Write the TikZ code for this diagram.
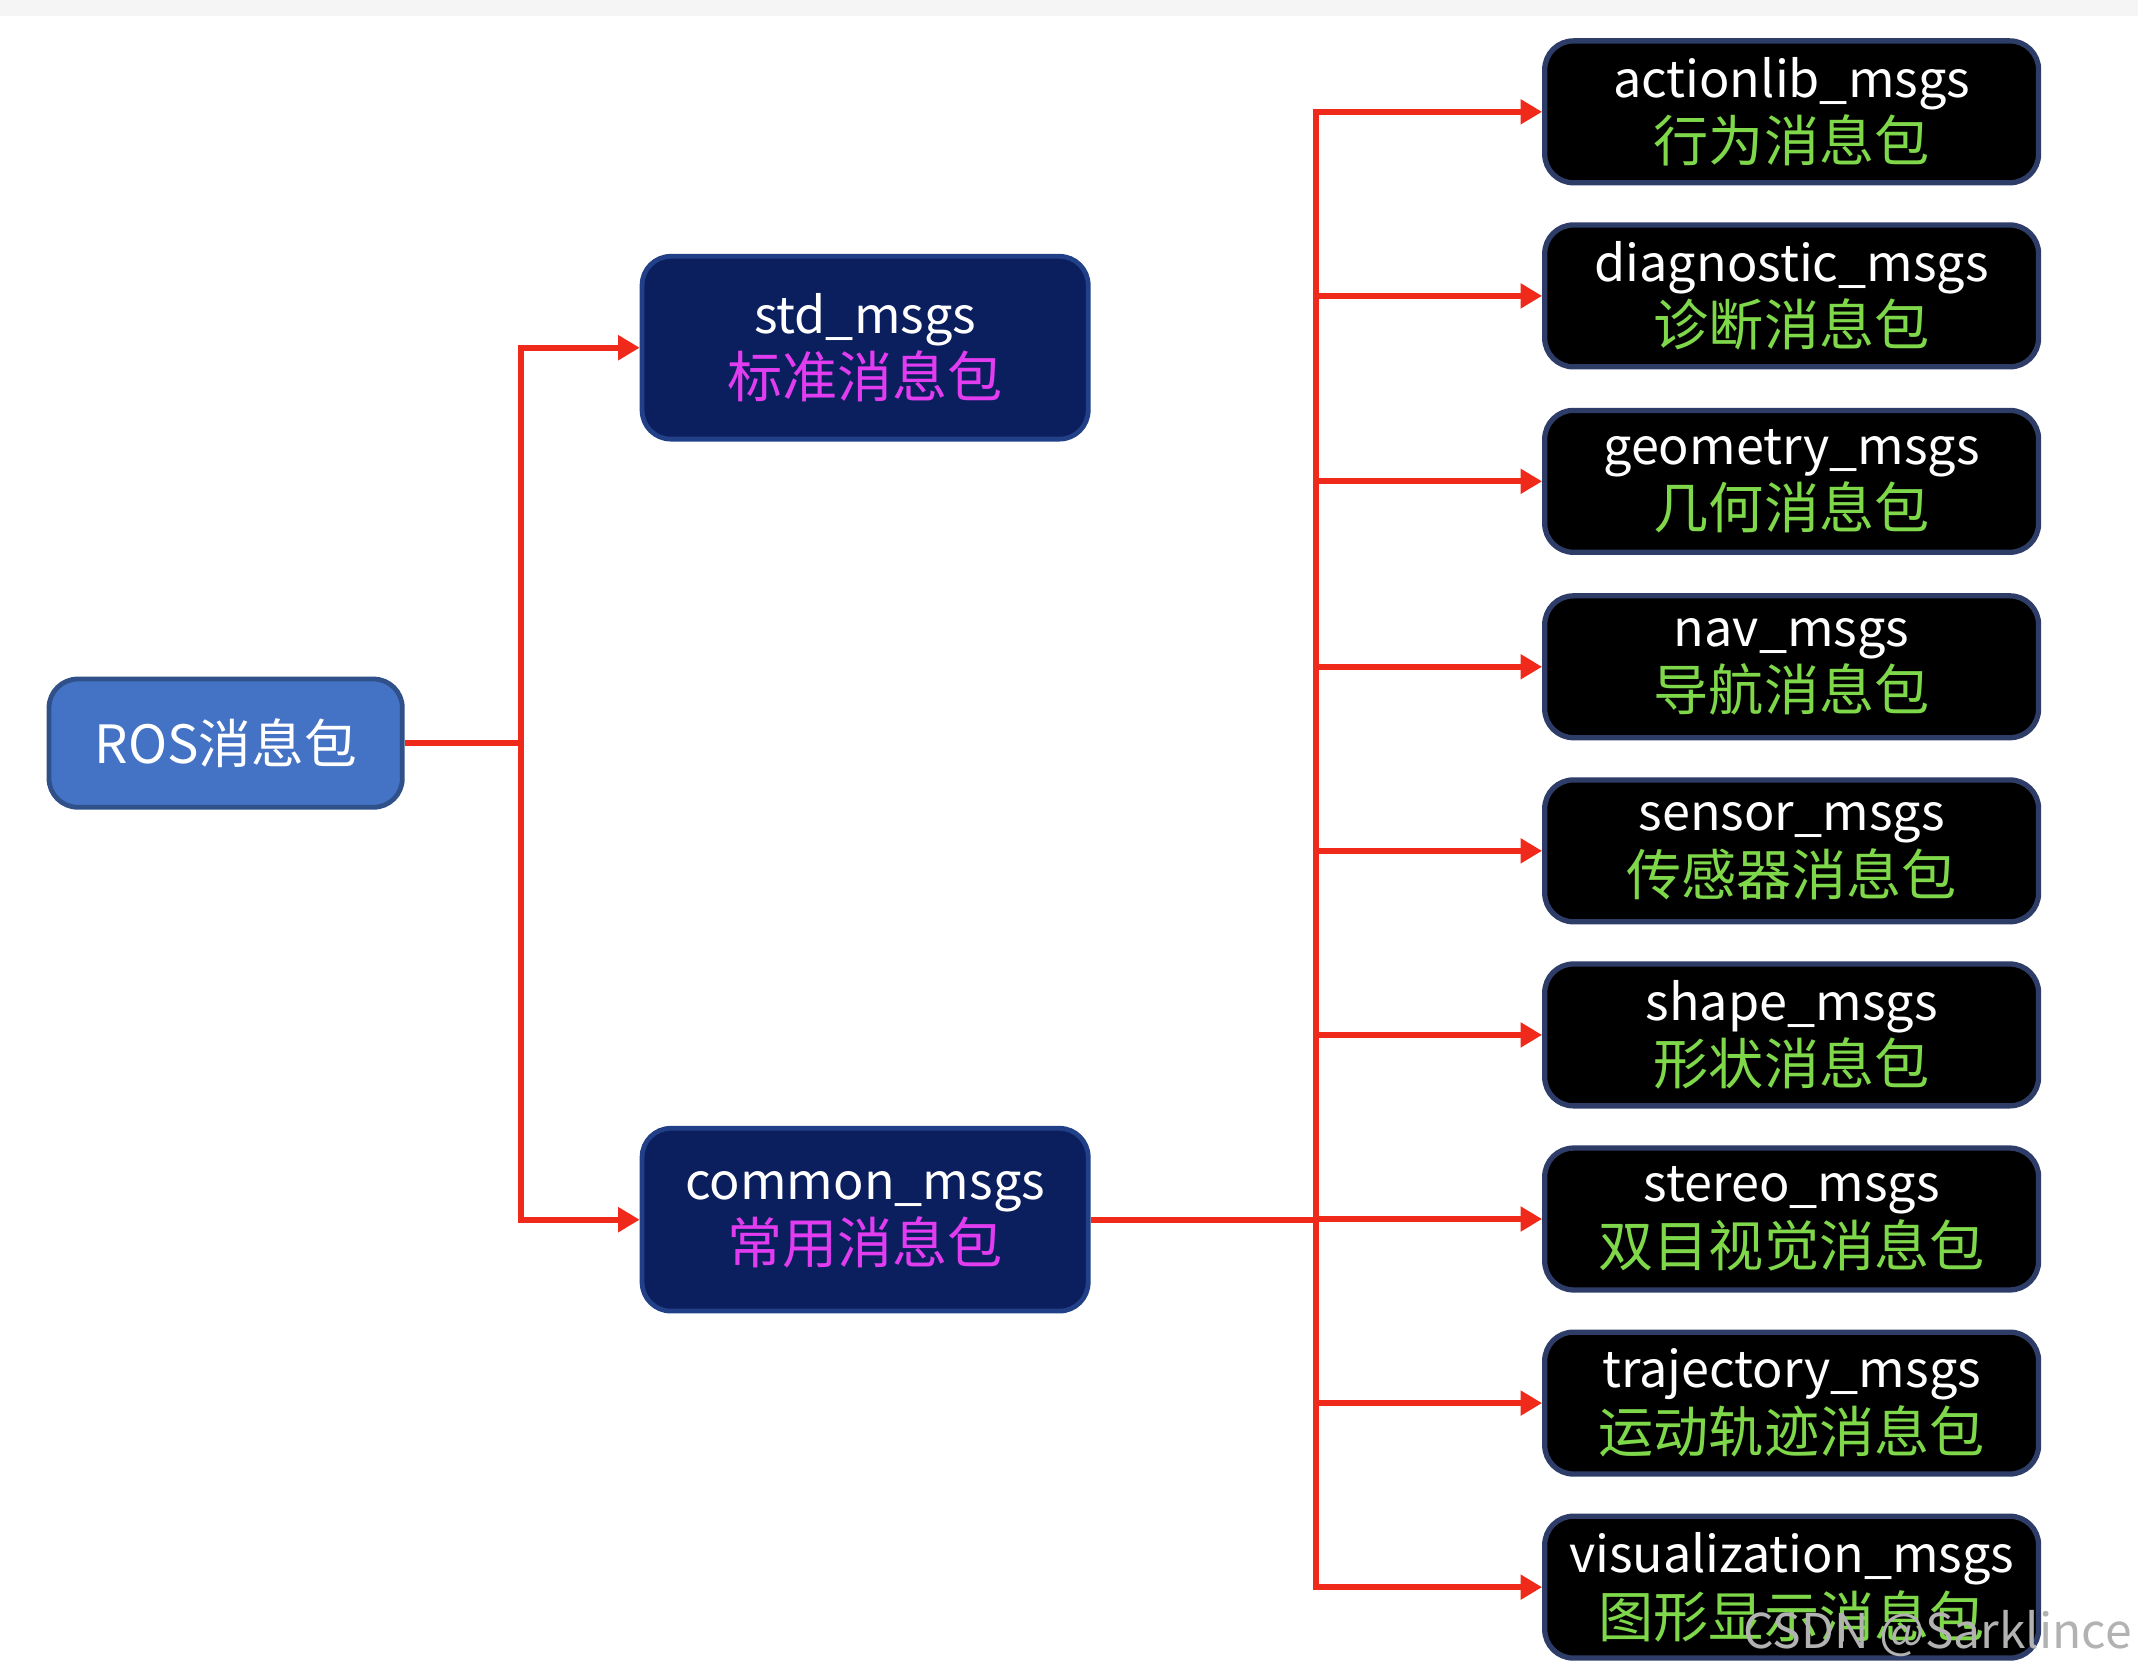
\documentclass[tikz,border=0pt]{standalone}
\usepackage{fontspec}
\newfontfamily\cjk{Noto Sans CJK SC}
\usetikzlibrary{arrows.meta}
\definecolor{rosblue}{HTML}{4472C4}
\definecolor{navy}{HTML}{0B1F5E}
\definecolor{mag}{HTML}{E23CF0}
\definecolor{grn}{HTML}{7ED84A}
\definecolor{arr}{HTML}{F02A1A}
\newcommand{\zh}[2]{{\fontsize{11.5}{13.5}\selectfont\textcolor{#1}{#2}}}
\begin{document}
\begin{tikzpicture}[x=0.01cm,y=-0.01cm,
  rosbox/.style={draw=rosblue!70!black,line width=1pt,fill=rosblue,rounded corners=6pt,minimum width=2.59cm,minimum height=0.94cm,inner sep=0pt,text=white,font=\cjk\fontsize{11}{13}\selectfont},
  midbox/.style={draw=navy!60!rosblue,line width=1pt,fill=navy,rounded corners=6pt,minimum width=3.27cm,minimum height=1.34cm,inner sep=0pt,text=white,align=center,font=\cjk\fontsize{10.5}{13.5}\selectfont},
  leafbox/.style={draw=navy!70!gray,line width=1.1pt,fill=black,rounded corners=6pt,minimum width=3.62cm,minimum height=1.04cm,inner sep=0pt,text=white,align=center,font=\cjk\fontsize{10.5}{13.5}\selectfont},
  link/.style={draw=arr,line width=1.3pt},
  arrow/.style={link,-{Triangle[length=4.5pt,width=5pt]}}]
\useasboundingbox (0,0) rectangle (1568,1226);
\fill[gray!8] (0,0) rectangle (1568,12);
\node[rosbox] (ros) at (165.5,545) {ROS消息包};
\node[midbox] (std) at (634.5,255) {std\_msgs\\\zh{mag}{标准消息包}};
\node[midbox] (com) at (634.5,894.5) {common\_msgs\\\zh{mag}{常用消息包}};
\foreach \n/\y/\a/\b in {l1/82/actionlib\_msgs/行为消息包,l2/217/diagnostic\_msgs/诊断消息包,l3/353/geometry\_msgs/几何消息包,l4/489/nav\_msgs/导航消息包,l5/624/sensor\_msgs/传感器消息包,l6/759/shape\_msgs/形状消息包,l7/894/stereo\_msgs/双目视觉消息包,l8/1029/trajectory\_msgs/运动轨迹消息包,l9/1164/visualization\_msgs/图形显示消息包}
  {\node[leafbox] (\n) at (1314,\y) {\a\\\zh{grn}{\b}};}
\coordinate (j1) at (382,545);
\coordinate (j2) at (965,894.5);
\draw[link] (ros.east) -- (j1);
\draw[arrow] (j1) |- (std.west);
\draw[arrow] (j1) |- (com.west);
\draw[link] (com.east) -- (j2);
\foreach \n in {l1,l2,l3,l4,l5,l6,l7,l8,l9}
  {\draw[arrow] (j2) |- (\n.west);}
\node[text=gray!60,font=\cjk\fontsize{10}{12}\selectfont,anchor=east,inner sep=0pt] (wm) at (1564,1198) {CSDN @Sarklince};
\end{tikzpicture}
\end{document}
